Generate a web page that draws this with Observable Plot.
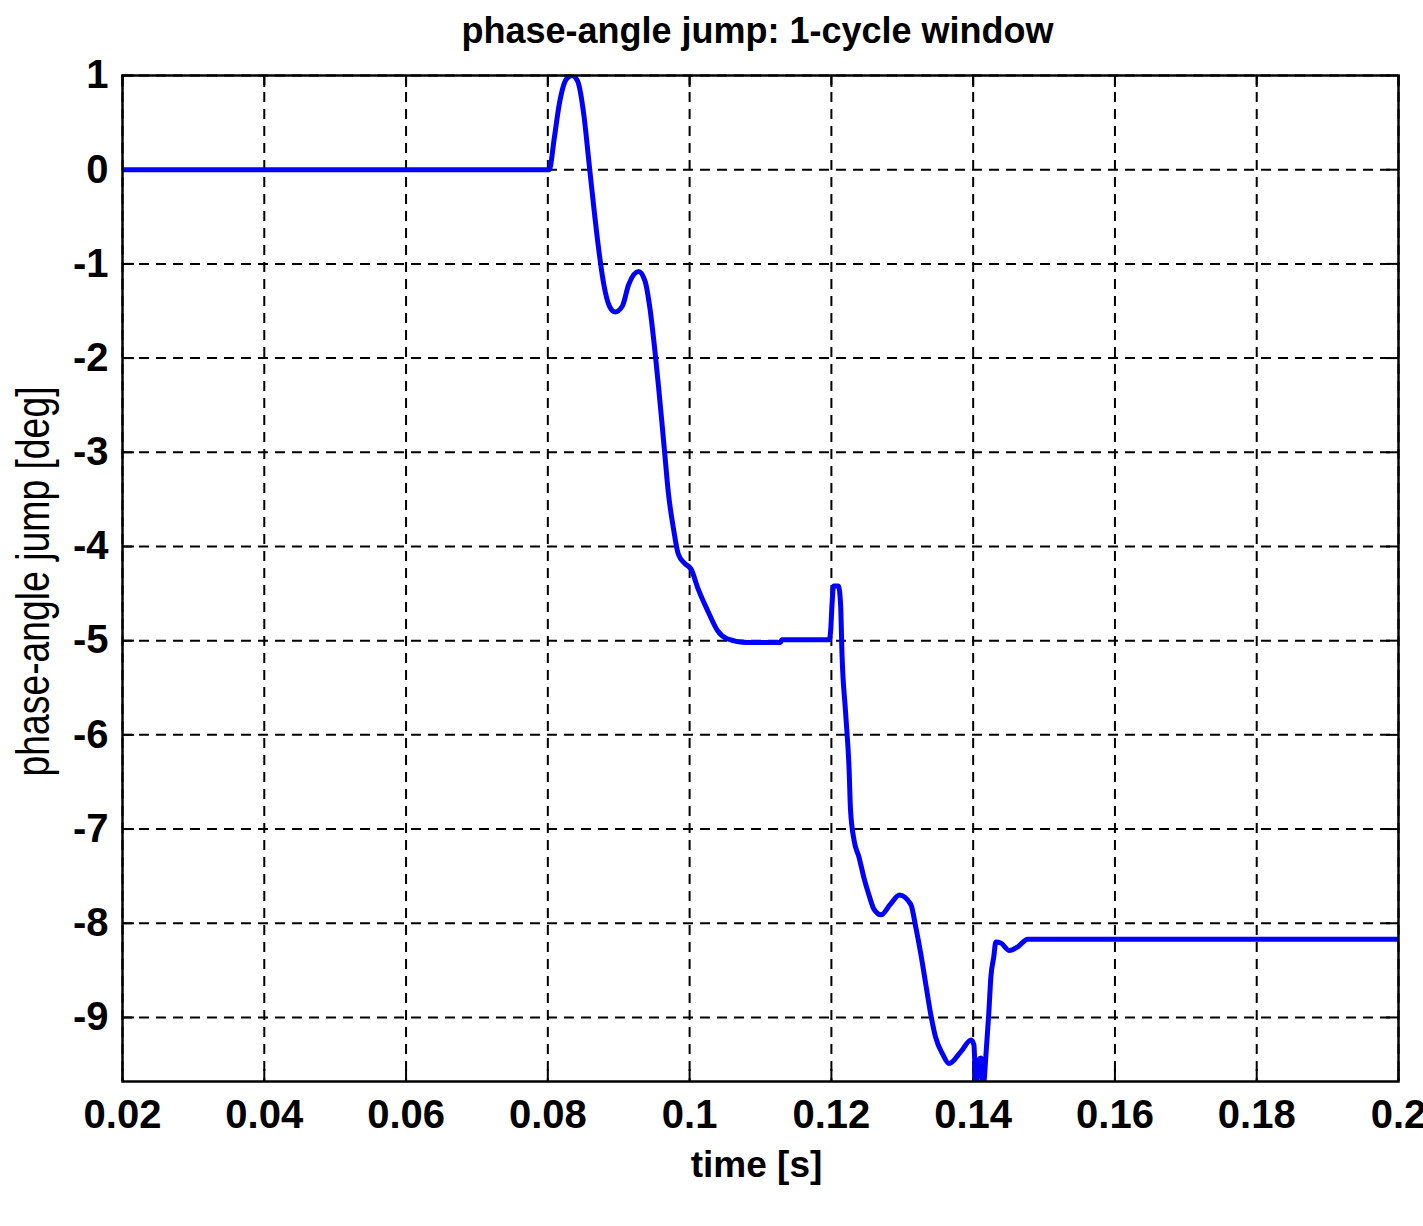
<!DOCTYPE html>
<html>
<head>
<meta charset="utf-8">
<script src="https://cdn.jsdelivr.net/npm/d3@7"></script>
<script src="https://cdn.jsdelivr.net/npm/@observablehq/plot@0.6"></script>
<style>
html, body { margin: 0; padding: 0; background: #fff; overflow: hidden; }
#chart svg { display: block; }
</style>
</head>
<body>
<div id="chart"></div>
<script>
// ---- data ----
const time = [
  0.02, 0.0802, 0.0809, 0.0816, 0.0826, 0.0834, 0.0842, 0.0851, 0.0858, 0.0865,
  0.0872, 0.0879, 0.0887, 0.0895, 0.0905, 0.0914, 0.0928, 0.0937, 0.0944, 0.0951,
  0.0956, 0.0960, 0.0965, 0.0970, 0.0977, 0.0984, 0.0993, 0.1002, 0.1012, 0.1026,
  0.1040, 0.1053, 0.1081, 0.1128, 0.1130, 0.1197, 0.1199, 0.1201, 0.1203, 0.1210,
  0.1213, 0.1215, 0.1220, 0.1225, 0.1227, 0.1232, 0.1239, 0.1246, 0.1253, 0.1260,
  0.1270, 0.1283, 0.1296, 0.1312, 0.1319, 0.1326, 0.1333, 0.1340, 0.1347, 0.1357,
  0.1366, 0.1383, 0.1397, 0.1401, 0.1404, 0.1408, 0.1411, 0.1414, 0.1418, 0.1422,
  0.1425, 0.1429, 0.1432, 0.1439, 0.1451, 0.1463, 0.1477, 0.2
];
const jump = [
  0, 0, 0.33, 0.69, 0.96, 1.0, 0.94, 0.57, 0.08, -0.41,
  -0.86, -1.22, -1.45, -1.51, -1.45, -1.22, -1.08, -1.18, -1.47, -1.92,
  -2.29, -2.61, -3.02, -3.43, -3.80, -4.08, -4.18, -4.24, -4.45, -4.69,
  -4.90, -4.98, -5.02, -5.02, -4.99, -4.99, -4.89, -4.60, -4.42, -4.42,
  -4.62, -5.15, -5.76, -6.37, -6.80, -7.12, -7.30, -7.52, -7.70, -7.85,
  -7.91, -7.80, -7.70, -7.80, -8.04, -8.32, -8.64, -8.96, -9.21, -9.39,
  -9.49, -9.36, -9.24, -9.29, -9.75, -9.45, -9.43, -9.75, -9.40, -8.96,
  -8.57, -8.36, -8.20, -8.21, -8.29, -8.25, -8.17, -8.17
];
const xTicks = [0.02, 0.04, 0.06, 0.08, 0.1, 0.12, 0.14, 0.16, 0.18, 0.2];
const xTickLabels = ["0.02", "0.04", "0.06", "0.08", "0.1", "0.12", "0.14", "0.16", "0.18", "0.2"];
const yTicks = [1, 0, -1, -2, -3, -4, -5, -6, -7, -8, -9];
const yTickLabels = ["1", "0", "-1", "-2", "-3", "-4", "-5", "-6", "-7", "-8", "-9"];
const titleText = "phase-angle jump: 1-cycle window";
const xLabel = "time [s]";
const yLabel = "phase-angle jump [deg]";

// ---- layout ----
const data = time.map((t, i) => ({t, v: jump[i]}));
const W = 1423, H = 1226, mL = 122, mR = 25, mT = 75, mB = 145;
const innerW = W - mL - mR, innerH = H - mT - mB;
const tickLen = 12;
const tickFont = {fontSize: 40, fontWeight: "bold"};
const gridStyle = {stroke: "black", strokeOpacity: 1, strokeWidth: 2, strokeDasharray: "10,7"};
const tickStyle = {stroke: "black", strokeWidth: 2};

const plot = Plot.plot({
  width: W, height: H,
  marginLeft: mL, marginRight: mR, marginTop: mT, marginBottom: mB,
  style: {background: "white", color: "black", fontFamily: "'Liberation Sans', Arial, sans-serif", overflow: "hidden"},
  x: {domain: [0.02, 0.2], label: null},
  y: {domain: [-9.68, 1], label: null},
  marks: [
    Plot.gridX(xTicks, gridStyle),
    Plot.gridY(yTicks, gridStyle),
    Plot.ruleX(xTicks, {insetTop: innerH - tickLen, ...tickStyle}),
    Plot.ruleX(xTicks, {insetBottom: innerH - tickLen, ...tickStyle}),
    Plot.ruleY(yTicks, {insetRight: innerW - tickLen, ...tickStyle}),
    Plot.ruleY(yTicks, {insetLeft: innerW - tickLen, ...tickStyle}),
    Plot.line(data, {x: "t", y: "v", stroke: "#0000ff", strokeWidth: 5, curve: "monotone-x", clip: true}),
    Plot.frame({stroke: "black", strokeWidth: 2.5}),
    Plot.axisX(xTicks, {tickSize: 0, tickPadding: 18, tickFormat: d => xTickLabels[xTicks.indexOf(d)], label: null, ...tickFont}),
    Plot.axisY(yTicks, {tickSize: 0, tickPadding: 14, tickFormat: d => yTickLabels[yTicks.indexOf(d)], label: null, ...tickFont}),
    Plot.text([titleText], {frameAnchor: "top", lineAnchor: "bottom", dy: -33, dx: -3, fontSize: 36, fontWeight: "bold"}),
    Plot.text([xLabel], {frameAnchor: "bottom", lineAnchor: "bottom", dy: 95, dx: -4, fontSize: 37, fontWeight: "bold"}),
    Plot.text([yLabel], {frameAnchor: "left", textAnchor: "middle", lineAnchor: "bottom", rotate: -90, dx: -74, dy: 3, fontSize: 46})
  ]
});
document.getElementById("chart").appendChild(plot);
// condense the y-axis title to the reference's length (bitmap-like narrow lettering)
plot.querySelectorAll("text").forEach(t => {
  if (t.textContent === yLabel) {
    t.setAttribute("textLength", 390);
    t.setAttribute("lengthAdjust", "spacingAndGlyphs");
  }
});
</script>
</body>
</html>
